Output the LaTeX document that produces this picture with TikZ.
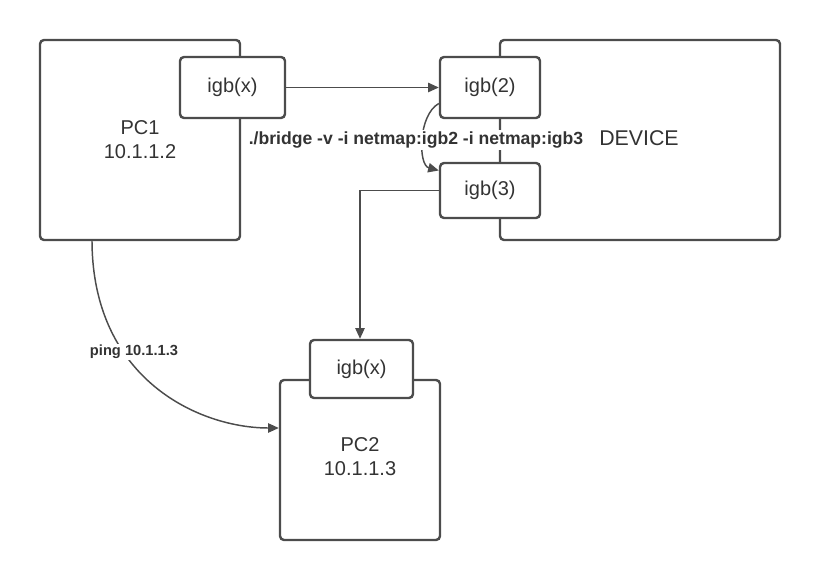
\documentclass[tikz,border=0pt]{standalone}
\usepackage{fontspec}
\setmainfont{Liberation Sans}
\usetikzlibrary{arrows.meta}
\begin{document}
\begin{tikzpicture}[x=0.75pt,y=-0.75pt,
  box/.style={draw=black!70,line width=1.8pt,rounded corners=3pt,fill=white},
  conn/.style={draw=black!70,line width=1.1pt,-{Triangle[length=8pt,width=7pt]}},
  txt/.style={font=\fontsize{15}{18}\selectfont,text=black!80,align=center},
  lbl/.style={font=\bfseries\fontsize{11}{13}\selectfont,text=black!80,fill=white,inner sep=1pt}]
\useasboundingbox (0,0) rectangle (820,580);
\node[box,minimum width=150pt,minimum height=150pt] (pc1) at (140,140) {};
\node[txt] (pc1t) at (140,140) {PC1\\10.1.1.2};
\node[box,minimum width=210pt,minimum height=150pt] (dev) at (640,140) {};
\node[txt,font=\fontsize{16}{19}\selectfont] (devt) at (639,138) {DEVICE};
\node[box,minimum width=120pt,minimum height=120pt] (pc2) at (360,460) {};
\node[txt] (pc2t) at (360,457) {PC2\\10.1.1.3};
\node[box,minimum width=78.75pt,minimum height=45.75pt,txt] (igbx1) at (232.5,87.5) {igb(x)};
\node[box,minimum width=75pt,minimum height=45.75pt,txt] (igb2) at (490,87.5) {igb(2)};
\node[box,minimum width=75pt,minimum height=41.25pt,txt] (igb3) at (490,190.5) {igb(3)};
\node[box,minimum width=77.25pt,minimum height=43.5pt,txt] (igbx2) at (361.5,369) {igb(x)};
\draw[conn] (igbx1.east) -- (igb2.west);
\draw[conn] ([yshift=-12]igb2.west) .. controls (418,115) and (418,165) .. ([yshift=15]igb3.west);
\node[lbl,font=\bfseries\fontsize{13.2}{15}\selectfont] (bl) at (416,140) {./bridge -v -i netmap:igb2 -i netmap:igb3};
\draw[conn] (igb3.west) -- (360,190.5) -- (igbx2.north -| 360,0);
\coordinate (s) at (92,240);
\draw[conn] (s) .. controls (92,380) and (200,428) .. (pc2.west |- 0,428);
\node[lbl] (pl) at (134,352) {ping 10.1.1.3};
\end{tikzpicture}
\end{document}
